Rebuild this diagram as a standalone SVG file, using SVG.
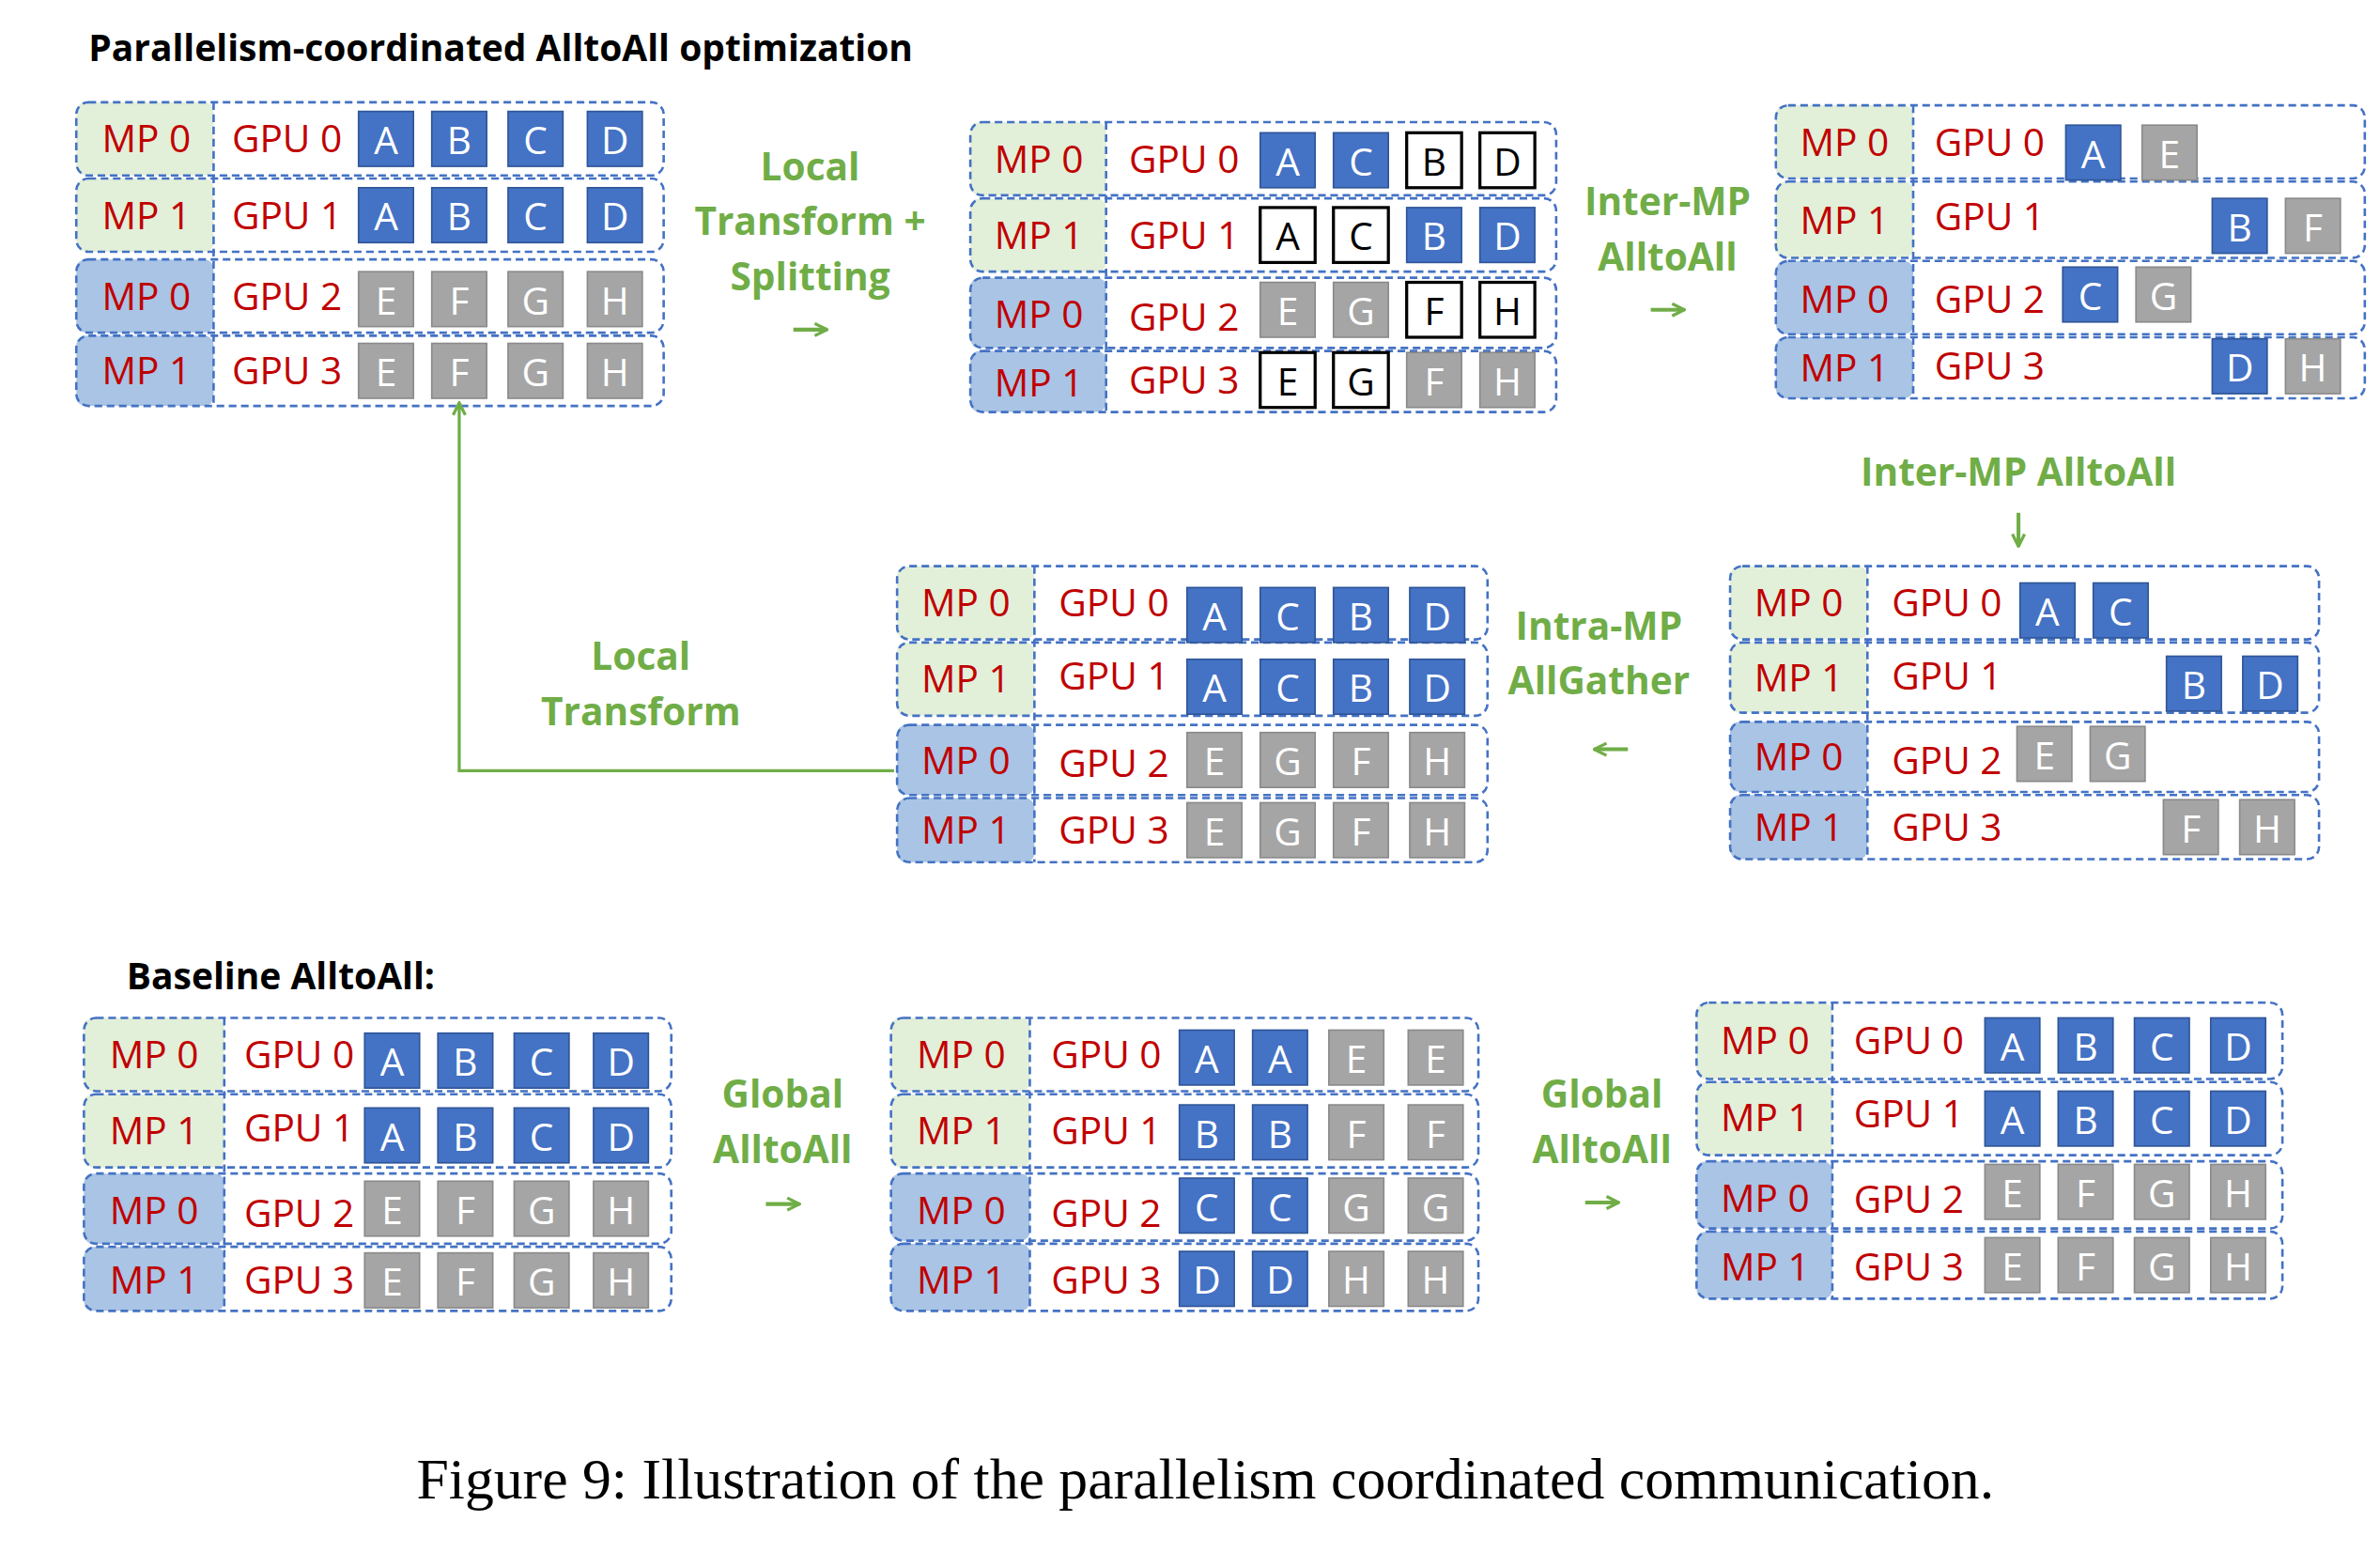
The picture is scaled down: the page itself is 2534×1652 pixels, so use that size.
<svg xmlns="http://www.w3.org/2000/svg" width="2534" height="1652" viewBox="0 0 2534 1652">
<style>
.row{fill:none;stroke:#4472c4;stroke-width:1.6;stroke-dasharray:5 3}
.g{fill:#e2efd9}.bl{fill:#a9c4e4}
.mp,.gpu{fill:#c00000;font-family:"Open Sans","Liberation Sans",sans-serif;font-size:25px}
.mp{text-anchor:middle}
.B{fill:#4472c4;stroke:#2f5597;stroke-width:1}.G{fill:#a5a5a5;stroke:#8a8a8a;stroke-width:1}.W{fill:#fff;stroke:#000;stroke-width:2}
.lt{fill:#fff;font-family:"Open Sans","Liberation Sans",sans-serif;font-size:25px;text-anchor:middle}
.lk{fill:#000;font-family:"Open Sans","Liberation Sans",sans-serif;font-size:25px;text-anchor:middle}
.lab{fill:#70ad47;font-family:"Open Sans","Liberation Sans",sans-serif;font-size:25px;font-weight:bold;text-anchor:middle}
.arr{fill:none;stroke:#70ad47;stroke-width:2.5}
.title{font-family:"Open Sans","Liberation Sans",sans-serif;font-size:24px;font-weight:bold;fill:#000}
</style>
<defs>
<marker id="ah" markerWidth="10" markerHeight="10" refX="9" refY="5" orient="auto" markerUnits="userSpaceOnUse"><path d="M1,1 L9,5 L1,9" fill="none" stroke="#70ad47" stroke-width="2"/></marker>
</defs>
<rect width="2534" height="1652" fill="#fff"/>
<g transform="scale(1.6244)">
<text class="title" x="58" y="40">Parallelism-coordinated AlltoAll optimization</text>
<text class="title" x="83" y="648">Baseline AlltoAll:</text>
<text x="790" y="982" text-anchor="middle" font-family="Liberation Serif,serif" font-size="38">Figure 9: Illustration of the parallelism coordinated communication.</text>

<!-- Block 1 -->
<g id="block1">
<rect class="g" x="50" y="67" width="90" height="48" rx="6"/><rect class="g" x="50" y="117" width="90" height="48" rx="6"/>
<rect class="bl" x="50" y="170" width="90" height="48" rx="6"/><rect class="bl" x="50" y="220" width="90" height="46" rx="6"/>
<rect class="row" x="50" y="67" width="385" height="48" rx="8"/><rect class="row" x="50" y="117" width="385" height="48" rx="8"/>
<rect class="row" x="50" y="170" width="385" height="48" rx="8"/><rect class="row" x="50" y="220" width="385" height="46" rx="8"/>
<path class="row" d="M140 67V266"/>
<text class="mp" x="96" y="100">MP 0</text><text class="mp" x="96" y="150">MP 1</text><text class="mp" x="96" y="203">MP 0</text><text class="mp" x="96" y="252">MP 1</text>
<text class="gpu" x="152" y="100">GPU 0</text><text class="gpu" x="152" y="150">GPU 1</text><text class="gpu" x="152" y="203">GPU 2</text><text class="gpu" x="152" y="252">GPU 3</text>
<rect class="B" x="235" y="73" width="36" height="36"/><rect class="B" x="283" y="73" width="36" height="36"/><rect class="B" x="333" y="73" width="36" height="36"/><rect class="B" x="385" y="73" width="36" height="36"/>
<text class="lt" x="253" y="101">A</text><text class="lt" x="301" y="101">B</text><text class="lt" x="351" y="101">C</text><text class="lt" x="403" y="101">D</text>
<rect class="B" x="235" y="123" width="36" height="36"/><rect class="B" x="283" y="123" width="36" height="36"/><rect class="B" x="333" y="123" width="36" height="36"/><rect class="B" x="385" y="123" width="36" height="36"/>
<text class="lt" x="253" y="151">A</text><text class="lt" x="301" y="151">B</text><text class="lt" x="351" y="151">C</text><text class="lt" x="403" y="151">D</text>
<rect class="G" x="235" y="178" width="36" height="36"/><rect class="G" x="283" y="178" width="36" height="36"/><rect class="G" x="333" y="178" width="36" height="36"/><rect class="G" x="385" y="178" width="36" height="36"/>
<text class="lt" x="253" y="206">E</text><text class="lt" x="301" y="206">F</text><text class="lt" x="351" y="206">G</text><text class="lt" x="403" y="206">H</text>
<rect class="G" x="235" y="225" width="36" height="36"/><rect class="G" x="283" y="225" width="36" height="36"/><rect class="G" x="333" y="225" width="36" height="36"/><rect class="G" x="385" y="225" width="36" height="36"/>
<text class="lt" x="253" y="253">E</text><text class="lt" x="301" y="253">F</text><text class="lt" x="351" y="253">G</text><text class="lt" x="403" y="253">H</text>
</g>

<!-- Block 2 -->
<g id="block2">
<rect class="g" x="636" y="80" width="89" height="48" rx="6"/><rect class="g" x="636" y="130" width="89" height="48" rx="6"/>
<rect class="bl" x="636" y="182" width="89" height="46" rx="6"/><rect class="bl" x="636" y="230" width="89" height="40" rx="6"/>
<rect class="row" x="636" y="80" width="384" height="48" rx="8"/><rect class="row" x="636" y="130" width="384" height="48" rx="8"/>
<rect class="row" x="636" y="182" width="384" height="46" rx="8"/><rect class="row" x="636" y="230" width="384" height="40" rx="8"/>
<path class="row" d="M725 80V270"/>
<text class="mp" x="681" y="113">MP 0</text><text class="mp" x="681" y="163">MP 1</text><text class="mp" x="681" y="215">MP 0</text><text class="mp" x="681" y="260">MP 1</text>
<text class="gpu" x="740" y="113">GPU 0</text><text class="gpu" x="740" y="163">GPU 1</text><text class="gpu" x="740" y="217">GPU 2</text><text class="gpu" x="740" y="258">GPU 3</text>
<rect class="B" x="826" y="87" width="36" height="36"/><rect class="B" x="874" y="87" width="36" height="36"/><rect class="W" x="922" y="87" width="36" height="36"/><rect class="W" x="970" y="87" width="36" height="36"/>
<text class="lt" x="844" y="115">A</text><text class="lt" x="892" y="115">C</text><text class="lk" x="940" y="115">B</text><text class="lk" x="988" y="115">D</text>
<rect class="W" x="826" y="136" width="36" height="36"/><rect class="W" x="874" y="136" width="36" height="36"/><rect class="B" x="922" y="136" width="36" height="36"/><rect class="B" x="970" y="136" width="36" height="36"/>
<text class="lk" x="844" y="164">A</text><text class="lk" x="892" y="164">C</text><text class="lt" x="940" y="164">B</text><text class="lt" x="988" y="164">D</text>
<rect class="G" x="826" y="185" width="36" height="36"/><rect class="G" x="874" y="185" width="36" height="36"/><rect class="W" x="922" y="185" width="36" height="36"/><rect class="W" x="970" y="185" width="36" height="36"/>
<text class="lt" x="844" y="213">E</text><text class="lt" x="892" y="213">G</text><text class="lk" x="940" y="213">F</text><text class="lk" x="988" y="213">H</text>
<rect class="W" x="826" y="231" width="36" height="36"/><rect class="W" x="874" y="231" width="36" height="36"/><rect class="G" x="922" y="231" width="36" height="36"/><rect class="G" x="970" y="231" width="36" height="36"/>
<text class="lk" x="844" y="259">E</text><text class="lk" x="892" y="259">G</text><text class="lt" x="940" y="259">F</text><text class="lt" x="988" y="259">H</text>
</g>

<!-- Block 3 -->
<g id="block3">
<rect class="g" x="1164" y="69" width="90" height="48" rx="6"/><rect class="g" x="1164" y="119" width="90" height="50" rx="6"/>
<rect class="bl" x="1164" y="171" width="90" height="48" rx="6"/><rect class="bl" x="1164" y="221" width="90" height="40" rx="6"/>
<rect class="row" x="1164" y="69" width="386" height="48" rx="8"/><rect class="row" x="1164" y="119" width="386" height="50" rx="8"/>
<rect class="row" x="1164" y="171" width="386" height="48" rx="8"/><rect class="row" x="1164" y="221" width="386" height="40" rx="8"/>
<path class="row" d="M1254 69V261"/>
<text class="mp" x="1209" y="102">MP 0</text><text class="mp" x="1209" y="153">MP 1</text><text class="mp" x="1209" y="205">MP 0</text><text class="mp" x="1209" y="250">MP 1</text>
<text class="gpu" x="1268" y="102">GPU 0</text><text class="gpu" x="1268" y="151">GPU 1</text><text class="gpu" x="1268" y="205">GPU 2</text><text class="gpu" x="1268" y="249">GPU 3</text>
<rect class="B" x="1354" y="82" width="36" height="36"/><rect class="G" x="1404" y="82" width="36" height="36"/>
<text class="lt" x="1372" y="110">A</text><text class="lt" x="1422" y="110">E</text>
<rect class="B" x="1450" y="130" width="36" height="36"/><rect class="G" x="1498" y="130" width="36" height="36"/>
<text class="lt" x="1468" y="158">B</text><text class="lt" x="1516" y="158">F</text>
<rect class="B" x="1352" y="175" width="36" height="36"/><rect class="G" x="1400" y="175" width="36" height="36"/>
<text class="lt" x="1370" y="203">C</text><text class="lt" x="1418" y="203">G</text>
<rect class="B" x="1450" y="222" width="36" height="36"/><rect class="G" x="1498" y="222" width="36" height="36"/>
<text class="lt" x="1468" y="250">D</text><text class="lt" x="1516" y="250">H</text>
</g>

<!-- Block 4 -->
<g id="block4">
<rect class="g" x="1134" y="371" width="90" height="48" rx="6"/><rect class="g" x="1134" y="421" width="90" height="46" rx="6"/>
<rect class="bl" x="1134" y="473" width="90" height="46" rx="6"/><rect class="bl" x="1134" y="521" width="90" height="42" rx="6"/>
<rect class="row" x="1134" y="371" width="386" height="48" rx="8"/><rect class="row" x="1134" y="421" width="386" height="46" rx="8"/>
<rect class="row" x="1134" y="473" width="386" height="46" rx="8"/><rect class="row" x="1134" y="521" width="386" height="42" rx="8"/>
<path class="row" d="M1224 371V563"/>
<text class="mp" x="1179" y="404">MP 0</text><text class="mp" x="1179" y="453">MP 1</text><text class="mp" x="1179" y="505">MP 0</text><text class="mp" x="1179" y="551">MP 1</text>
<text class="gpu" x="1240" y="404">GPU 0</text><text class="gpu" x="1240" y="452">GPU 1</text><text class="gpu" x="1240" y="507">GPU 2</text><text class="gpu" x="1240" y="551">GPU 3</text>
<rect class="B" x="1324" y="382" width="36" height="36"/><rect class="B" x="1372" y="382" width="36" height="36"/>
<text class="lt" x="1342" y="410">A</text><text class="lt" x="1390" y="410">C</text>
<rect class="B" x="1420" y="430" width="36" height="36"/><rect class="B" x="1470" y="430" width="36" height="36"/>
<text class="lt" x="1438" y="458">B</text><text class="lt" x="1488" y="458">D</text>
<rect class="G" x="1322" y="476" width="36" height="36"/><rect class="G" x="1370" y="476" width="36" height="36"/>
<text class="lt" x="1340" y="504">E</text><text class="lt" x="1388" y="504">G</text>
<rect class="G" x="1418" y="524" width="36" height="36"/><rect class="G" x="1468" y="524" width="36" height="36"/>
<text class="lt" x="1436" y="552">F</text><text class="lt" x="1486" y="552">H</text>
</g>

<!-- Block 5 -->
<g id="block5">
<rect class="g" x="588" y="371" width="90" height="48" rx="6"/><rect class="g" x="588" y="421" width="90" height="48" rx="6"/>
<rect class="bl" x="588" y="475" width="90" height="46" rx="6"/><rect class="bl" x="588" y="523" width="90" height="42" rx="6"/>
<rect class="row" x="588" y="371" width="387" height="48" rx="8"/><rect class="row" x="588" y="421" width="387" height="48" rx="8"/>
<rect class="row" x="588" y="475" width="387" height="46" rx="8"/><rect class="row" x="588" y="523" width="387" height="42" rx="8"/>
<path class="row" d="M678 371V565"/>
<text class="mp" x="633" y="404">MP 0</text><text class="mp" x="633" y="454">MP 1</text><text class="mp" x="633" y="507">MP 0</text><text class="mp" x="633" y="553">MP 1</text>
<text class="gpu" x="694" y="404">GPU 0</text><text class="gpu" x="694" y="452">GPU 1</text><text class="gpu" x="694" y="509">GPU 2</text><text class="gpu" x="694" y="553">GPU 3</text>
<rect class="B" x="778" y="385" width="36" height="36"/><rect class="B" x="826" y="385" width="36" height="36"/><rect class="B" x="874" y="385" width="36" height="36"/><rect class="B" x="924" y="385" width="36" height="36"/>
<text class="lt" x="796" y="413">A</text><text class="lt" x="844" y="413">C</text><text class="lt" x="892" y="413">B</text><text class="lt" x="942" y="413">D</text>
<rect class="B" x="778" y="432" width="36" height="36"/><rect class="B" x="826" y="432" width="36" height="36"/><rect class="B" x="874" y="432" width="36" height="36"/><rect class="B" x="924" y="432" width="36" height="36"/>
<text class="lt" x="796" y="460">A</text><text class="lt" x="844" y="460">C</text><text class="lt" x="892" y="460">B</text><text class="lt" x="942" y="460">D</text>
<rect class="G" x="778" y="480" width="36" height="36"/><rect class="G" x="826" y="480" width="36" height="36"/><rect class="G" x="874" y="480" width="36" height="36"/><rect class="G" x="924" y="480" width="36" height="36"/>
<text class="lt" x="796" y="508">E</text><text class="lt" x="844" y="508">G</text><text class="lt" x="892" y="508">F</text><text class="lt" x="942" y="508">H</text>
<rect class="G" x="778" y="526" width="36" height="36"/><rect class="G" x="826" y="526" width="36" height="36"/><rect class="G" x="874" y="526" width="36" height="36"/><rect class="G" x="924" y="526" width="36" height="36"/>
<text class="lt" x="796" y="554">E</text><text class="lt" x="844" y="554">G</text><text class="lt" x="892" y="554">F</text><text class="lt" x="942" y="554">H</text>
</g>

<!-- Baseline 1 -->
<g id="base1">
<rect class="g" x="55" y="667" width="92" height="48" rx="6"/><rect class="g" x="55" y="717" width="92" height="48" rx="6"/>
<rect class="bl" x="55" y="769" width="92" height="46" rx="6"/><rect class="bl" x="55" y="817" width="92" height="42" rx="6"/>
<rect class="row" x="55" y="667" width="385" height="48" rx="8"/><rect class="row" x="55" y="717" width="385" height="48" rx="8"/>
<rect class="row" x="55" y="769" width="385" height="46" rx="8"/><rect class="row" x="55" y="817" width="385" height="42" rx="8"/>
<path class="row" d="M147 667V859"/>
<text class="mp" x="101" y="700">MP 0</text><text class="mp" x="101" y="750">MP 1</text><text class="mp" x="101" y="802">MP 0</text><text class="mp" x="101" y="848">MP 1</text>
<text class="gpu" x="160" y="700">GPU 0</text><text class="gpu" x="160" y="748">GPU 1</text><text class="gpu" x="160" y="804">GPU 2</text><text class="gpu" x="160" y="848">GPU 3</text>
<rect class="B" x="239" y="677" width="36" height="36"/><rect class="B" x="287" y="677" width="36" height="36"/><rect class="B" x="337" y="677" width="36" height="36"/><rect class="B" x="389" y="677" width="36" height="36"/>
<text class="lt" x="257" y="705">A</text><text class="lt" x="305" y="705">B</text><text class="lt" x="355" y="705">C</text><text class="lt" x="407" y="705">D</text>
<rect class="B" x="239" y="726" width="36" height="36"/><rect class="B" x="287" y="726" width="36" height="36"/><rect class="B" x="337" y="726" width="36" height="36"/><rect class="B" x="389" y="726" width="36" height="36"/>
<text class="lt" x="257" y="754">A</text><text class="lt" x="305" y="754">B</text><text class="lt" x="355" y="754">C</text><text class="lt" x="407" y="754">D</text>
<rect class="G" x="239" y="774" width="36" height="36"/><rect class="G" x="287" y="774" width="36" height="36"/><rect class="G" x="337" y="774" width="36" height="36"/><rect class="G" x="389" y="774" width="36" height="36"/>
<text class="lt" x="257" y="802">E</text><text class="lt" x="305" y="802">F</text><text class="lt" x="355" y="802">G</text><text class="lt" x="407" y="802">H</text>
<rect class="G" x="239" y="821" width="36" height="36"/><rect class="G" x="287" y="821" width="36" height="36"/><rect class="G" x="337" y="821" width="36" height="36"/><rect class="G" x="389" y="821" width="36" height="36"/>
<text class="lt" x="257" y="849">E</text><text class="lt" x="305" y="849">F</text><text class="lt" x="355" y="849">G</text><text class="lt" x="407" y="849">H</text>
</g>

<!-- Baseline 2 -->
<g id="base2">
<rect class="g" x="584" y="667" width="91" height="48" rx="6"/><rect class="g" x="584" y="717" width="91" height="48" rx="6"/>
<rect class="bl" x="584" y="769" width="91" height="44" rx="6"/><rect class="bl" x="584" y="815" width="91" height="44" rx="6"/>
<rect class="row" x="584" y="667" width="385" height="48" rx="8"/><rect class="row" x="584" y="717" width="385" height="48" rx="8"/>
<rect class="row" x="584" y="769" width="385" height="44" rx="8"/><rect class="row" x="584" y="815" width="385" height="44" rx="8"/>
<path class="row" d="M675 667V859"/>
<text class="mp" x="630" y="700">MP 0</text><text class="mp" x="630" y="750">MP 1</text><text class="mp" x="630" y="802">MP 0</text><text class="mp" x="630" y="848">MP 1</text>
<text class="gpu" x="689" y="700">GPU 0</text><text class="gpu" x="689" y="750">GPU 1</text><text class="gpu" x="689" y="804">GPU 2</text><text class="gpu" x="689" y="848">GPU 3</text>
<rect class="B" x="773" y="675" width="36" height="36"/><rect class="B" x="821" y="675" width="36" height="36"/><rect class="G" x="871" y="675" width="36" height="36"/><rect class="G" x="923" y="675" width="36" height="36"/>
<text class="lt" x="791" y="703">A</text><text class="lt" x="839" y="703">A</text><text class="lt" x="889" y="703">E</text><text class="lt" x="941" y="703">E</text>
<rect class="B" x="773" y="724" width="36" height="36"/><rect class="B" x="821" y="724" width="36" height="36"/><rect class="G" x="871" y="724" width="36" height="36"/><rect class="G" x="923" y="724" width="36" height="36"/>
<text class="lt" x="791" y="752">B</text><text class="lt" x="839" y="752">B</text><text class="lt" x="889" y="752">F</text><text class="lt" x="941" y="752">F</text>
<rect class="B" x="773" y="772" width="36" height="36"/><rect class="B" x="821" y="772" width="36" height="36"/><rect class="G" x="871" y="772" width="36" height="36"/><rect class="G" x="923" y="772" width="36" height="36"/>
<text class="lt" x="791" y="800">C</text><text class="lt" x="839" y="800">C</text><text class="lt" x="889" y="800">G</text><text class="lt" x="941" y="800">G</text>
<rect class="B" x="773" y="820" width="36" height="36"/><rect class="B" x="821" y="820" width="36" height="36"/><rect class="G" x="871" y="820" width="36" height="36"/><rect class="G" x="923" y="820" width="36" height="36"/>
<text class="lt" x="791" y="848">D</text><text class="lt" x="839" y="848">D</text><text class="lt" x="889" y="848">H</text><text class="lt" x="941" y="848">H</text>
</g>

<!-- Baseline 3 -->
<g id="base3">
<rect class="g" x="1112" y="657" width="89" height="50" rx="6"/><rect class="g" x="1112" y="709" width="89" height="48" rx="6"/>
<rect class="bl" x="1112" y="761" width="89" height="44" rx="6"/><rect class="bl" x="1112" y="807" width="89" height="44" rx="6"/>
<rect class="row" x="1112" y="657" width="384" height="50" rx="8"/><rect class="row" x="1112" y="709" width="384" height="48" rx="8"/>
<rect class="row" x="1112" y="761" width="384" height="44" rx="8"/><rect class="row" x="1112" y="807" width="384" height="44" rx="8"/>
<path class="row" d="M1201 657V851"/>
<text class="mp" x="1157" y="691">MP 0</text><text class="mp" x="1157" y="741">MP 1</text><text class="mp" x="1157" y="794">MP 0</text><text class="mp" x="1157" y="839">MP 1</text>
<text class="gpu" x="1215" y="691">GPU 0</text><text class="gpu" x="1215" y="739">GPU 1</text><text class="gpu" x="1215" y="795">GPU 2</text><text class="gpu" x="1215" y="839">GPU 3</text>
<rect class="B" x="1301" y="667" width="36" height="36"/><rect class="B" x="1349" y="667" width="36" height="36"/><rect class="B" x="1399" y="667" width="36" height="36"/><rect class="B" x="1449" y="667" width="36" height="36"/>
<text class="lt" x="1319" y="695">A</text><text class="lt" x="1367" y="695">B</text><text class="lt" x="1417" y="695">C</text><text class="lt" x="1467" y="695">D</text>
<rect class="B" x="1301" y="715" width="36" height="36"/><rect class="B" x="1349" y="715" width="36" height="36"/><rect class="B" x="1399" y="715" width="36" height="36"/><rect class="B" x="1449" y="715" width="36" height="36"/>
<text class="lt" x="1319" y="743">A</text><text class="lt" x="1367" y="743">B</text><text class="lt" x="1417" y="743">C</text><text class="lt" x="1467" y="743">D</text>
<rect class="G" x="1301" y="763" width="36" height="36"/><rect class="G" x="1349" y="763" width="36" height="36"/><rect class="G" x="1399" y="763" width="36" height="36"/><rect class="G" x="1449" y="763" width="36" height="36"/>
<text class="lt" x="1319" y="791">E</text><text class="lt" x="1367" y="791">F</text><text class="lt" x="1417" y="791">G</text><text class="lt" x="1467" y="791">H</text>
<rect class="G" x="1301" y="811" width="36" height="36"/><rect class="G" x="1349" y="811" width="36" height="36"/><rect class="G" x="1399" y="811" width="36" height="36"/><rect class="G" x="1449" y="811" width="36" height="36"/>
<text class="lt" x="1319" y="839">E</text><text class="lt" x="1367" y="839">F</text><text class="lt" x="1417" y="839">G</text><text class="lt" x="1467" y="839">H</text>
</g>

<!-- Labels -->
<g id="labels">
<text class="lab" x="531" y="118">Local</text><text class="lab" x="531" y="154">Transform +</text><text class="lab" x="531" y="190">Splitting</text>
<text class="lab" x="1093" y="141">Inter-MP</text><text class="lab" x="1093" y="177">AlltoAll</text>
<text class="lab" x="1323" y="318">Inter-MP AlltoAll</text>
<text class="lab" x="1048" y="419">Intra-MP</text><text class="lab" x="1048" y="455">AllGather</text>
<text class="lab" x="420" y="439">Local</text><text class="lab" x="420" y="475">Transform</text>
<text class="lab" x="513" y="726">Global</text><text class="lab" x="513" y="762">AlltoAll</text>
<text class="lab" x="1050" y="726">Global</text><text class="lab" x="1050" y="762">AlltoAll</text>
</g>

<!-- Connectors -->
<g id="connectors">
<path class="arr" d="M520 216H542" marker-end="url(#ah)"/>
<path class="arr" d="M1082 203H1104" marker-end="url(#ah)"/>
<path class="arr" d="M1323 336V358" marker-end="url(#ah)"/>
<path class="arr" d="M1067 491H1045" marker-end="url(#ah)"/>
<path class="arr" d="M502 789H524" marker-end="url(#ah)"/>
<path class="arr" d="M1039 788H1061" marker-end="url(#ah)"/>
<path fill="none" stroke="#70ad47" stroke-width="2" d="M586 505H301V264" marker-end="url(#ah)"/>
</g>
</g>
</svg>
